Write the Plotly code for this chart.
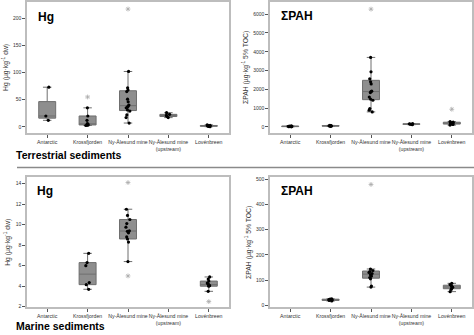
import numpy as np
import plotly.graph_objects as go

categories = ["Antarctic", "Krossfjorden", "Ny-Ålesund mine", "Ny-Ålesund mine (upstream)", "Lovénbreen"]
tick_labels = ["Antarctic", "Krossfjorden", "Ny-Ålesund mine", "Ny-Ålesund mine<br>(upstream)", "Lovénbreen"]

# Terrestrial sediments, Hg (µg/kg dw)
hg_terr = {
    "Antarctic": [12, 20, 73],
    "Krossfjorden": [2.5, 3, 3.5, 4, 5, 6, 12, 20, 35, 55],
    "Ny-Ålesund mine": [7, 17, 22, 29, 31, 35, 36, 38, 40, 46, 51, 65, 68, 72, 102, 217],
    "Ny-Ålesund mine (upstream)": [17, 19, 21, 23, 26],
    "Lovénbreen": [0.3, 0.8, 1.2, 1.5, 1.8, 2.2, 2.8, 3.5],
}
# Terrestrial sediments, sum PAH (µg/kg 5% TOC)
pah_terr = {
    "Antarctic": [5, 15, 25, 35, 45, 60],
    "Krossfjorden": [30, 40, 50, 60, 70, 80],
    "Ny-Ålesund mine": [800, 890, 980, 1420, 1480, 1590, 1830, 1880, 1900, 2290, 2400, 2560, 2930, 3700, 6270],
    "Ny-Ålesund mine (upstream)": [120, 135, 150, 165, 180],
    "Lovénbreen": [100, 130, 150, 170, 180, 200, 220, 250, 280, 940],
}
# Marine sediments, Hg
hg_mar = {
    "Krossfjorden": [3.7, 4.15, 4.35, 6.0, 6.3, 7.2],
    "Ny-Ålesund mine": [5.0, 6.4, 8.3, 8.6, 8.8, 9.2, 9.35, 9.4, 9.75, 10.1, 10.5, 10.9, 11.5, 14.1],
    "Lovénbreen": [2.5, 3.5, 4.0, 4.05, 4.1, 4.2, 4.3, 4.5, 4.7, 4.9],
}
# Marine sediments, sum PAH
pah_mar = {
    "Krossfjorden": [17, 19, 21, 22, 24, 25],
    "Ny-Ålesund mine": [72, 76, 105, 110, 116, 121, 126, 130, 134, 138, 144, 480],
    "Lovénbreen": [54, 63, 68, 71, 74, 77, 82, 87],
}

FONT = "Liberation Sans"
fig = go.Figure()

panels = [
    (hg_terr, "x", "y"),
    (pah_terr, "x2", "y2"),
    (hg_mar, "x3", "y3"),
    (pah_mar, "x4", "y4"),
]

def _median(a):
    n = len(a)
    return a[n // 2] if n % 2 else 0.5 * (a[n // 2 - 1] + a[n // 2])

def split(vals):
    # inclusive quartiles, same as plotly quartilemethod="inclusive"
    v = sorted(vals)
    n = len(v)
    if n % 2:
        lower, upper = v[: n // 2 + 1], v[n // 2:]
    else:
        lower, upper = v[: n // 2], v[n // 2:]
    q1, q3 = _median(lower), _median(upper)
    iqr = q3 - q1
    lo, hi = q1 - 1.5 * iqr, q3 + 1.5 * iqr
    return [x for x in vals if lo <= x <= hi]

for data, xa, ya in panels:
    xs, ys, xin, yin = [], [], [], []
    for cat, vals in data.items():
        xs += [cat] * len(vals)
        ys += vals
        inl = split(vals)
        xin += [cat] * len(inl)
        yin += inl
    fig.add_trace(go.Box(
        x=xs, y=ys, xaxis=xa, yaxis=ya,
        boxpoints="outliers", quartilemethod="inclusive",
        fillcolor="#8e8e8e",
        line=dict(color="#6e6e6e", width=1),
        whiskerwidth=0.5,
        marker=dict(symbol="asterisk-open", size=4, color="#ababab",
                    line=dict(width=0.8, color="#ababab")),
        showlegend=False,
    ))
    fig.add_trace(go.Box(
        x=xin, y=yin, xaxis=xa, yaxis=ya,
        boxpoints="all", jitter=0.25, pointpos=0, quartilemethod="inclusive",
        fillcolor="rgba(0,0,0,0)",
        line=dict(color="rgba(0,0,0,0)", width=0),
        marker=dict(color="black", size=3.2),
        showlegend=False,
    ))

xdom_l = [27 / 474, 229 / 474]
xdom_r = [270 / 474, 472 / 474]
ydom_t = [1 - 133 / 335, 1 - 1 / 335]
ydom_b = [1 - 309 / 335, 1 - 178 / 335]

def xaxis(dom, anchor):
    return dict(domain=dom, anchor=anchor, type="category",
                categoryorder="array", categoryarray=categories,
                tickmode="array", tickvals=categories, ticktext=tick_labels,
                range=[-0.5, 4.5],
                showline=True, mirror=True, linecolor="#bdbdbd", linewidth=1.5,
                ticks="outside", ticklen=3, tickcolor="#555",
                tickfont=dict(family=FONT, size=5.2, color="#333"),
                showgrid=False, zeroline=False, tickangle=0)

def yaxis(dom, anchor, rng, tv, title):
    return dict(domain=dom, anchor=anchor, range=rng, tickvals=tv,
                showline=True, mirror=True, linecolor="#bdbdbd", linewidth=1.5,
                ticks="outside", ticklen=3, tickcolor="#555",
                tickfont=dict(family=FONT, size=5, color="#333"),
                showgrid=False, zeroline=False,
                title=dict(text=title, font=dict(family=FONT, size=6.8, color="#333"), standoff=4))

hg_title = "Hg (µg·kg<sup>-1</sup> dw)"
pah_title = "ΣPAH (µg·kg<sup>-1</sup> 5% TOC)"

fig.update_layout(
    width=474, height=335,
    margin=dict(l=0, r=0, t=0, b=0),
    paper_bgcolor="white", plot_bgcolor="white",
    boxmode="overlay", boxgap=0.4,
    xaxis=xaxis(xdom_l, "y"),
    xaxis2=xaxis(xdom_r, "y2"),
    xaxis3=xaxis(xdom_l, "y3"),
    xaxis4=xaxis(xdom_r, "y4"),
    yaxis=yaxis(ydom_t, "x", [-11, 230], [0, 50, 100, 150, 200], hg_title),
    yaxis2=yaxis(ydom_t, "x2", [-314, 6650], [0, 1000, 2000, 3000, 4000, 5000, 6000], pah_title),
    yaxis3=yaxis(ydom_b, "x3", [1.95, 14.6], [2, 4, 6, 8, 10, 12, 14], hg_title),
    yaxis4=yaxis(ydom_b, "x4", [-8, 508], [0, 100, 200, 300, 400, 500], pah_title),
    showlegend=False,
)

def ann(text, x, y, size, bold=True):
    fig.add_annotation(text=text, x=x / 474, y=1 - y / 335, xref="paper", yref="paper",
                       xanchor="left", yanchor="middle", showarrow=False,
                       font=dict(family=FONT, size=size, color="black",
                                 weight="bold" if bold else "normal"))

ann("Hg", 36, 16, 12)
ann("ΣPAH", 279, 15, 12)
ann("Hg", 35, 192, 12)
ann("ΣPAH", 279, 192, 12)
ann("Terrestrial sediments", 14, 155, 10.5)
ann("Marine sediments", 14, 328, 10.5)

fig.add_shape(type="line", xref="paper", yref="paper",
              x0=17 / 474, x1=1.0, y0=1 - 168 / 335, y1=1 - 168 / 335,
              line=dict(color="#8a8a8a", width=1.5))

fig.write_html("out.html")
